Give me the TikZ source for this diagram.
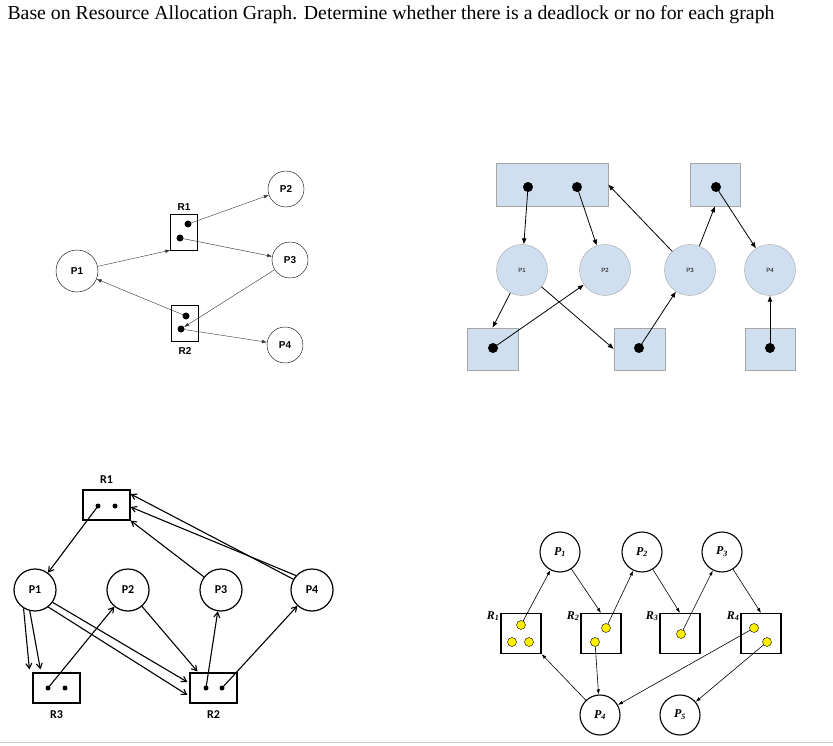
\documentclass[tikz,border=0pt]{standalone}
\usepackage{fontspec}
\setmainfont{Liberation Serif}
\newfontfamily\arialfont{Liberation Sans}
\newfontfamily\calfont{Carlito}
\usetikzlibrary{arrows.meta,calc,positioning}

\definecolor{paleblue}{RGB}{207,223,239}
\definecolor{dotyellow}{RGB}{255,240,0}

\tikzset{
  % graph 1
  procA/.style={circle, draw, minimum size=36pt, inner sep=0pt, font=\arialfont\bfseries\fontsize{10}{12}\selectfont},
  resA/.style={draw, minimum width=27pt, minimum height=36pt, inner sep=0pt},
  dotA/.style={circle, fill=black, minimum size=7pt, inner sep=0pt},
  arA/.style={-{Latex[length=5pt,width=3.5pt]}, draw=black!80},
  % graph 2
  procB/.style={circle, draw=gray!70, fill=paleblue, minimum size=51pt, inner sep=0pt, font=\arialfont\fontsize{6}{7}\selectfont},
  resB/.style={draw=gray!70, fill=paleblue, inner sep=0pt},
  dotB/.style={circle, fill=black, minimum size=10pt, inner sep=0pt},
  arB/.style={-{Latex[length=6pt,width=5pt]}, thick},
  % graph 3
  procC/.style={circle, draw, line width=1.2pt, minimum size=42pt, inner sep=0pt, font=\calfont\bfseries\fontsize{12}{14}\selectfont},
  resC/.style={draw, line width=1.2pt, minimum width=47pt, minimum height=30pt, inner sep=0pt},
  dotC/.style={circle, fill=black, minimum size=5pt, inner sep=0pt},
  arC/.style={-{Straight Barb[length=5pt,width=6pt]}, line width=1.1pt},
  labC/.style={font=\calfont\bfseries\fontsize{12}{14}\selectfont},
  % graph 4
  procD/.style={circle, draw, line width=1.1pt, minimum size=40pt, inner sep=0pt, font=\bfseries\itshape\fontsize{12}{14}\selectfont},
  resD/.style={draw, line width=1.1pt, minimum size=40pt, inner sep=0pt},
  dotD/.style={circle, draw, fill=dotyellow, minimum size=9pt, inner sep=0pt},
  arD/.style={-{Latex[length=5pt,width=3.5pt]}, semithick},
  labD/.style={font=\bfseries\itshape\fontsize{12}{14}\selectfont, inner sep=0pt},
}

\begin{document}
\begin{tikzpicture}[x=1pt, y=-1pt]
\useasboundingbox (0,0) rectangle (833,746);

\node[anchor=west, font=\fontsize{19.8}{22}\selectfont] (title) at (4,15)
  {Base on Resource Allocation Graph. Determine whether there is a deadlock or no for each graph};
\draw[gray!40] (0,742) -- (833,742);

% graph 1
\node[procA, minimum size=42pt] (a-p1) at (77,271) {P1};
\node[procA] (a-p2) at (286,189) {P2};
\node[procA] (a-p3) at (290,260) {P3};
\node[procA] (a-p4) at (285,345) {P4};
\node[resA] (a-r1) at (184,232) {};
\node[font=\arialfont\bfseries\fontsize{10}{12}\selectfont, above=0pt of a-r1] (a-r1l) {R1};
\node[dotA] (a-r1a) at (188,224) {};
\node[dotA] (a-r1b) at (180,238) {};
\node[resA] (a-r2) at (185,323) {};
\node[font=\arialfont\bfseries\fontsize{10}{12}\selectfont, below=3pt of a-r2] (a-r2l) {R2};
\node[dotA] (a-r2a) at (186,316) {};
\node[dotA] (a-r2b) at (181,329) {};
\draw[arA] (a-p1) -- (a-r1.south west);
\draw[arA] (a-r1a.center) -- (a-p2);
\draw[arA] (a-r1b.center) -- (a-p3);
\draw[arA] (a-p3) -- (a-r2b);
\draw[arA] (a-r2a.center) -- (a-p1);
\draw[arA] (a-r2b.center) -- (a-p4);

% graph 2
\node[resB, minimum width=112pt, minimum height=43pt] (b-ra) at (552,184.5) {};
\node[resB, minimum width=50pt, minimum height=43pt] (b-rb) at (715,184.5) {};
\node[resB, minimum width=51pt, minimum height=42pt] (b-rc) at (492.5,349) {};
\node[resB, minimum width=51pt, minimum height=42pt] (b-rd) at (639.5,349) {};
\node[resB, minimum width=50pt, minimum height=42pt] (b-re) at (770,349) {};
\node[dotB] (b-ra1) at (528,187) {};
\node[dotB] (b-ra2) at (577,187) {};
\node[dotB] (b-rb1) at (716,187) {};
\node[dotB] (b-rc1) at (493,348) {};
\node[dotB] (b-rd1) at (639,348) {};
\node[dotB] (b-re1) at (770,348) {};
\node[procB] (b-p1) at (522,270) {P1};
\node[procB] (b-p2) at (605,270) {P2};
\node[procB] (b-p3) at (690,270) {P3};
\node[procB] (b-p4) at (770,270) {P4};
\draw[arB] (b-ra1.center) -- (b-p1);
\draw[arB] (b-ra2.center) -- (b-p2);
\draw[arB] (b-p3) -- (b-ra.east);
\draw[arB] (b-p3) -- (b-rb.south);
\draw[arB] (b-rb1.center) -- (b-p4);
\draw[arB] (b-p1) -- (b-rc.north);
\draw[arB] (b-rc1.center) -- (b-p2);
\draw[arB] (b-p1) -- (b-rd.west);
\draw[arB] (b-rd1.center) -- (b-p3);
\draw[arB] (b-re1.center) -- (b-p4);

% graph 3
\node[resC] (c-r1) at (106.5,505) {};
\node[labC, above=2pt of c-r1] (c-r1l) {R1};
\node[dotC] (c-r1a) at (98,506) {};
\node[dotC] (c-r1b) at (115,506) {};
\node[resC] (c-r3) at (56.5,688) {};
\node[labC, below=3pt of c-r3] (c-r3l) {R3};
\node[dotC] (c-r3a) at (48,688) {};
\node[dotC] (c-r3b) at (65,688) {};
\node[resC] (c-r2) at (213.5,688) {};
\node[labC, below=3pt of c-r2] (c-r2l) {R2};
\node[dotC] (c-r2a) at (206,688) {};
\node[dotC] (c-r2b) at (222,688) {};
\node[procC] (c-p1) at (35,590) {P1};
\node[procC] (c-p2) at (128,590) {P2};
\node[procC] (c-p3) at (221,590) {P3};
\node[procC] (c-p4) at (312,590) {P4};
\draw[arC] (c-r1a.center) -- (c-p1);
\draw[arC] (c-p3) -- (c-r1.south east);
\draw[arC] (c-p4.150) -- ($(c-r1.east)+(0,-11)$);
\draw[arC] (c-p4.138) -- ($(c-r1.east)+(0,2)$);
\draw[arC] (c-p1.238) -- ($(c-r3.north west)+(-3,-3)$);
\draw[arC] (c-p1.256) -- ($(c-r3.north west)+(8,-3)$);
\draw[arC] (c-r3a.center) -- (c-p2);
\draw[arC] (c-p1.-35) -- ($(c-r2.west)+(-2,-6)$);
\draw[arC] (c-p1.-52) -- ($(c-r2.west)+(-2,7)$);
\draw[arC] (c-p2) -- ($(c-r2.north west)+(8,-1)$);
\draw[arC] (c-r2a.center) -- (c-p3);
\draw[arC] (c-r2b.center) -- (c-p4);

% graph 4
\node[procD] (d-p1) at (560,552) {P\textsubscript{1}};
\node[procD] (d-p2) at (642,552) {P\textsubscript{2}};
\node[procD] (d-p3) at (722,552) {P\textsubscript{3}};
\node[procD] (d-p4) at (600,715) {P\textsubscript{4}};
\node[procD] (d-p5) at (680,715) {P\textsubscript{5}};
\node[resD] (d-r1) at (521,633.5) {};
\node[resD] (d-r2) at (601,633.5) {};
\node[resD] (d-r3) at (680,633.5) {};
\node[resD] (d-r4) at (761,633.5) {};
\foreach \r in {1,...,4}
  \node[labD, anchor=north east] (d-r\r l) at ($(d-r\r.north west)+(-1,-2)$) {R\textsubscript{\r}};
\node[dotD] (d-r1a) at (521,625) {};
\node[dotD] (d-r1b) at (512,642) {};
\node[dotD] (d-r1c) at (529,642) {};
\node[dotD] (d-r2a) at (606,628) {};
\node[dotD] (d-r2b) at (595,642) {};
\node[dotD] (d-r3a) at (681,634) {};
\node[dotD] (d-r4a) at (754,628) {};
\node[dotD] (d-r4b) at (767,642) {};
\draw[arD] (d-r1a) -- (d-p1);
\draw[arD] (d-p1) -- (d-r2.north);
\draw[arD] (d-r2a) -- (d-p2);
\draw[arD] (d-p2) -- (d-r3.north);
\draw[arD] (d-r3a) -- (d-p3);
\draw[arD] (d-p3) -- (d-r4.north);
\draw[arD] (d-r2b) -- (d-p4);
\draw[arD] (d-r4a) -- (d-p4);
\draw[arD] (d-r4b) -- (d-p5);
\draw[arD] (d-p4) -- (d-r1.south east);
\end{tikzpicture}
\end{document}
